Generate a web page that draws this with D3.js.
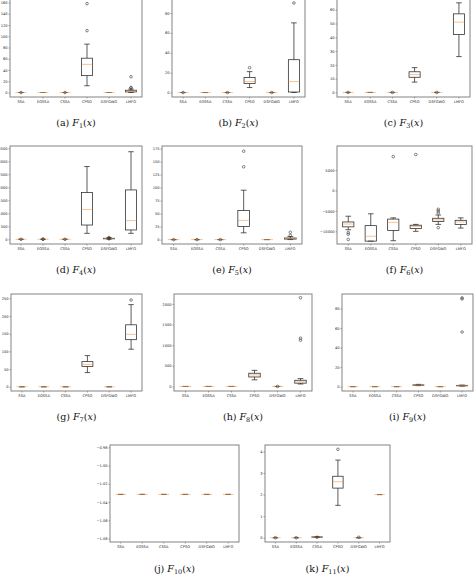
<!DOCTYPE html>
<html><head><meta charset="utf-8">
<script src="https://cdn.jsdelivr.net/npm/d3@7"></script>
<style>body{margin:0;background:#fff}svg{display:block}</style>
</head><body><svg id="c" width="474" height="576"></svg>
<script>
const categories = ["SSA","EOSSA","CSSA","CPSO","DSFGWO","LMFO"];
// each entry: [min, q1, median, q3, max, [outliers]]
const F1 = [[0,0,0,0,0,[0]],[0,0,0,0,0,[]],[0,0,0,0,0,[0]],[12,30,50,61,86,[110,158]],[0,0,0,0,0,[]],[0,1,2,4,6,[8,9,28]]];
const F2 = [[0,0,0,0,0,[0]],[0,0,0,0,0,[]],[0,0,0,0,0,[0]],[5,9,11,15,21,[25]],[0,0,0,0,0,[0]],[0,0.5,11,33,70,[90]]];
const F3 = [[0,0,0,0,0,[0]],[0,0,0,0,0,[]],[0,0,0,0,0,[0]],[7.5,11,13,15,18,[]],[0,0,0,0,0,[0]],[26,42,51,57,65,[]]];
const F4 = [[0,0,0,0,0,[0]],[0,0,0,0,0,[0,10]],[0,0,0,0,0,[0]],[230,550,1150,1800,2800,[]],[10,20,30,40,60,[20,40,70]],[230,360,720,1900,3370,[]]];
const F5 = [[0,0,0,0,0,[0]],[0,0,0,0,0,[0]],[0,0,0,0,0,[0]],[13,25,37,56,95,[140,170]],[0,0,0,0,0,[]],[0,1,2,3,6,[8,14]]];
const F6 = [[-9600,-8900,-8200,-7700,-6300,[-10300,-10700,-12000]],[-12400,-12400,-11200,-8600,-5700,[]],[-12300,-9800,-7800,-7000,-6700,[8300]],[-10000,-9300,-8800,-8500,-8300,[8800]],[-8300,-7600,-7200,-6800,-6000,[-5500,-5000,-4600,-9100]],[-9200,-8300,-7700,-7300,-6700,[]]];
const F7 = [[0,0,0,0,0,[]],[0,0,0,0,0,[]],[0,0,0,0,0,[]],[40,57,63,71,88,[]],[0,0,0,0,0,[]],[106,133,148,175,232,[245]]];
const F8 = [[0,0,0,0,0,[]],[0,0,0,0,0,[]],[0,0,0,0,0,[]],[160,230,280,320,390,[]],[0,0,0,0,0,[0]],[60,80,110,150,190,[1120,1170,2150]]];
const F9 = [[0,0,0,0,0,[]],[0,0,0,0,0,[]],[0,0,0,0,0,[]],[1,1.3,1.5,1.8,2.3,[]],[0,0,0,0,0,[]],[0.5,0.8,1,1.3,1.6,[56,90,91]]];
const F10 = categories.map(()=>[-1.0316,-1.0316,-1.0316,-1.0316,-1.0316,[]]);
const F11 = [[0,0,0,0,0,[0]],[0,0,0,0,0,[0]],[0.01,0.02,0.03,0.04,0.05,[0.02]],[1.5,2.3,2.6,2.85,3.6,[4.1]],[0,0,0,0,0,[0.02]],[2,2,2,2,2,[]]];
const ticks1=[0,20,40,60,80,100,120,140,160], ticks2=[0,20,40,60,80], ticks3=[0,10,20,30,40,50,60];
const ticks4=[0,500,1000,1500,2000,2500,3000,3500], ticks5=[0,25,50,75,100,125,150,175];
const ticks6=[-10000,-5000,0,5000], ticks7=[0,50,100,150,200,250], ticks8=[0,500,1000,1500,2000];
const ticks9=[0,20,40,60,80], ticks10=[-0.98,-1.00,-1.02,-1.04,-1.06,-1.08], ticks11=[0,1,2,3,4];
const captions=["a","b","c","d","e","f","g","h","i","j","k"];

const panels=[
 {d:F1,t:ticks1,dom:[-8,168],x:[10,142],y:[-2,97],cy:126,f:d3.format("d")},
 {d:F2,t:ticks2,dom:[-4.5,95],x:[172,305],y:[-2,97],cy:126,f:d3.format("d")},
 {d:F3,t:ticks3,dom:[-3.3,68.5],x:[337,470],y:[-2,97],cy:126,f:d3.format("d")},
 {d:F4,t:ticks4,dom:[-180,3590],x:[10,142],y:[146,244],cy:273,f:d3.format("d")},
 {d:F5,t:ticks5,dom:[-8.5,180],x:[162,302],y:[146,244],cy:273,f:d3.format("d")},
 {d:F6,t:ticks6,dom:[-13100,10900],x:[337,472],y:[146,244],cy:273,f:d3.format("d")},
 {d:F7,t:ticks7,dom:[-12,262],x:[11,142],y:[294,391],cy:420,f:d3.format("d")},
 {d:F8,t:ticks8,dom:[-110,2240],x:[174,312],y:[294,391],cy:420,f:d3.format("d")},
 {d:F9,t:ticks9,dom:[-4.5,95],x:[342,473],y:[294,391],cy:420,f:d3.format("d")},
 {d:F10,t:ticks10,dom:[-1.0838,-0.9774],x:[110,239],y:[445,542],cy:572,f:d3.format(".2f")},
 {d:F11,t:ticks11,dom:[-0.2,4.3],x:[265,390],y:[445,542],cy:572,f:d3.format("d")}
];
const svg=d3.select("#c");
panels.forEach((p,i)=>{
  const g=svg.append("g");
  const x=d3.scaleBand().domain(categories).range(p.x);
  const y=d3.scaleLinear().domain(p.dom).range([p.y[1],p.y[0]]);
  const ya=g.append("g").attr("transform",`translate(${p.x[0]},0)`).call(d3.axisLeft(y).tickValues(p.t).tickFormat(p.f).tickSize(1.5).tickPadding(1));
  const xa=g.append("g").attr("transform",`translate(0,${p.y[1]})`).call(d3.axisBottom(x).tickSize(1.5).tickPadding(1.5));
  [ya,xa].forEach(a=>{a.select(".domain").remove();a.selectAll("text").attr("font-size",3.6).attr("font-family","DejaVu Sans").attr("fill","#222");a.selectAll("line").attr("stroke","#444").attr("stroke-width",0.5);});
  const bw=x.bandwidth()*0.5;
  p.d.forEach((s,j)=>{
    const cx=x(categories[j])+x.bandwidth()/2;
    const ln=(x1,y1,x2,y2,c,w)=>g.append("line").attr("x1",x1).attr("y1",y1).attr("x2",x2).attr("y2",y2).attr("stroke",c||"#333").attr("stroke-width",w||0.8);
    ln(cx,y(s[0]),cx,y(s[1])); ln(cx,y(s[3]),cx,y(s[4]));
    ln(cx-bw/4,y(s[0]),cx+bw/4,y(s[0])); ln(cx-bw/4,y(s[4]),cx+bw/4,y(s[4]));
    g.append("rect").attr("x",cx-bw/2).attr("y",y(s[3])).attr("width",bw).attr("height",Math.max(0,y(s[1])-y(s[3]))).attr("fill","none").attr("stroke","#333").attr("stroke-width",0.8);
    ln(cx-bw/2,y(s[2]),cx+bw/2,y(s[2]),"#f39a4c",0.6);
    s[5].forEach(o=>g.append("circle").attr("cx",cx).attr("cy",y(o)).attr("r",1.3).attr("fill","none").attr("stroke","#333").attr("stroke-width",0.6));
  });
  g.append("rect").attr("x",p.x[0]).attr("y",p.y[0]).attr("width",p.x[1]-p.x[0]).attr("height",p.y[1]-p.y[0]).attr("fill","none").attr("stroke","#777").attr("stroke-width",0.9);
  const cx=(p.x[0]+p.x[1])/2;
  const t=g.append("text").attr("x",cx).attr("y",p.cy).attr("text-anchor","middle").attr("font-family","DejaVu Serif, Liberation Serif").attr("font-size",9.5).attr("fill","#111");
  t.append("tspan").text(`(${captions[i]})  `);
  t.append("tspan").attr("font-style","italic").text("F");
  t.append("tspan").attr("font-size",6.5).attr("dy",2).text(String(i+1));
  t.append("tspan").attr("dy",-2).text("(");
  t.append("tspan").attr("font-style","italic").text("x");
  t.append("tspan").text(")");
});
</script></body></html>
